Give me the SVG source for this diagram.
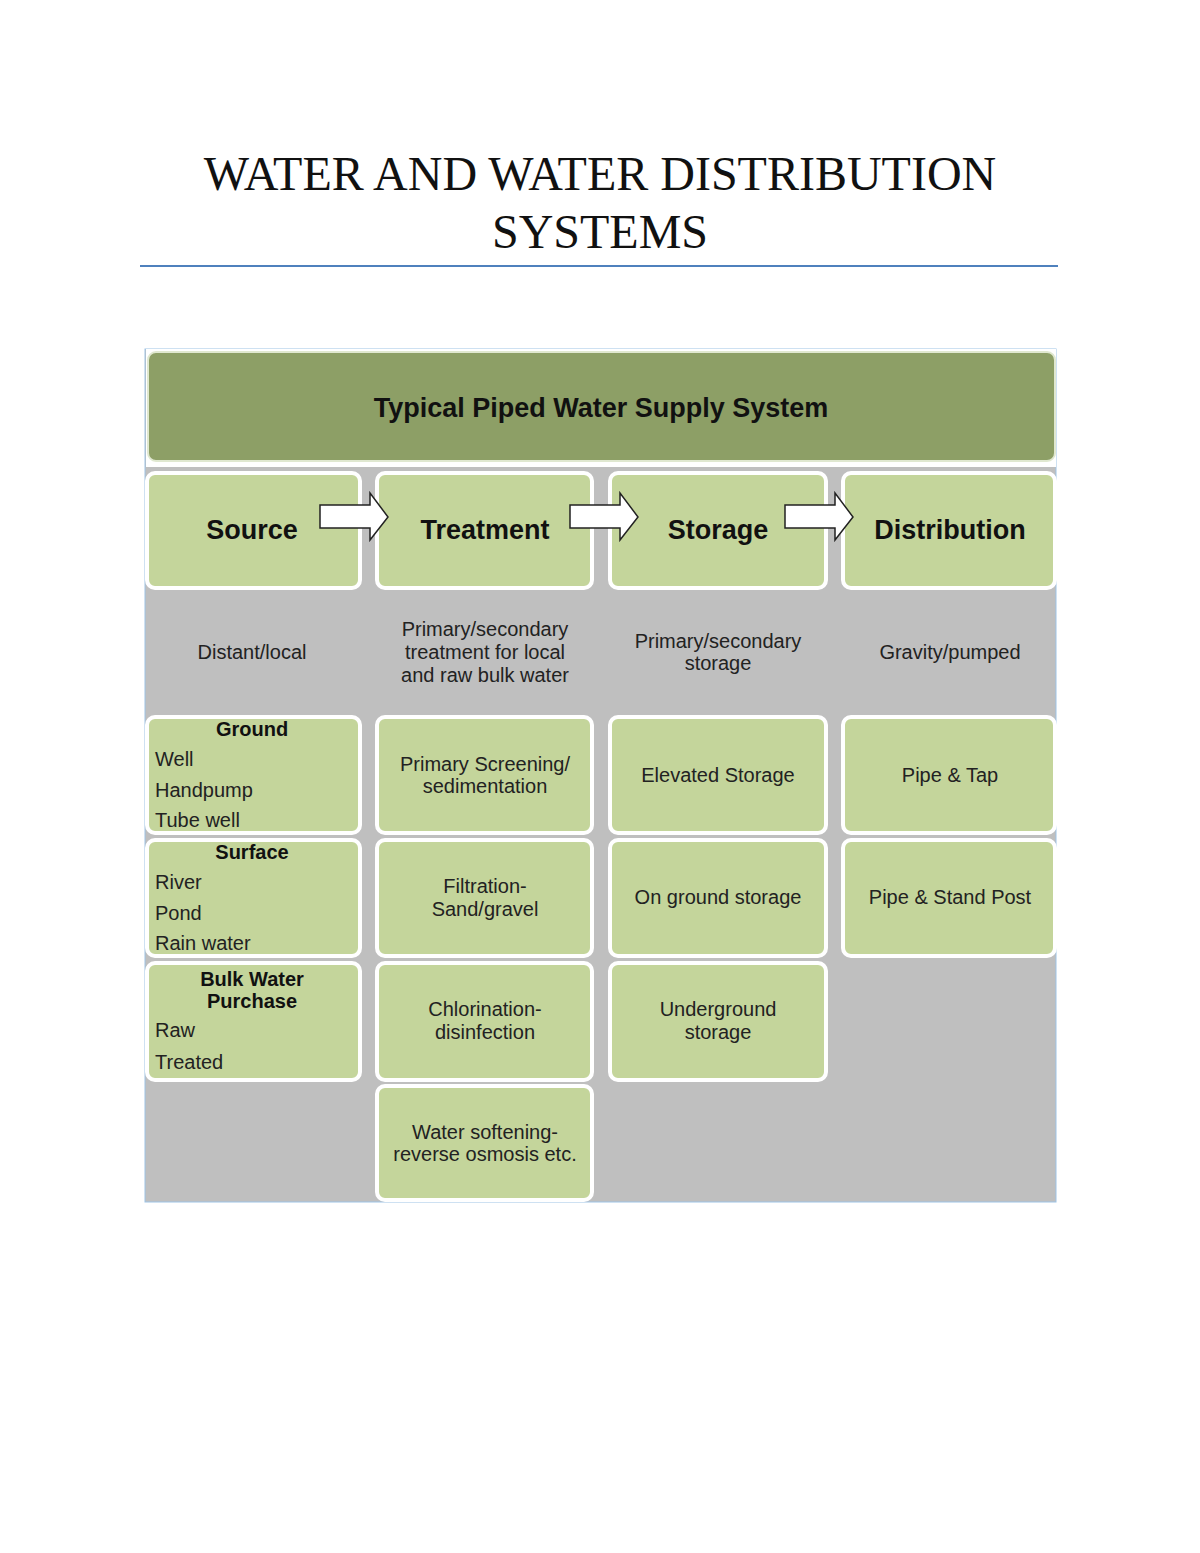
<svg xmlns="http://www.w3.org/2000/svg" width="1200" height="1553" viewBox="0 0 1200 1553">
<style>
.b{fill:#c4d59b;stroke:#fff;stroke-width:4}
.t{font-family:"Liberation Sans",Arial,sans-serif;font-size:20px;fill:#222}
.h{font-family:"Liberation Sans",Arial,sans-serif;font-size:27px;font-weight:bold;fill:#111}
.bb{font-family:"Liberation Sans",Arial,sans-serif;font-size:20px;font-weight:bold;fill:#111}
.m{text-anchor:middle}
.ar{fill:#fff;stroke:#222;stroke-width:1.5}
</style>
<rect width="1200" height="1553" fill="#fff"/>
<text x="600" y="190" class="m" font-family="Liberation Serif,serif" font-size="48" fill="#111">WATER AND WATER DISTRIBUTION</text>
<text x="600" y="248" class="m" font-family="Liberation Serif,serif" font-size="48" fill="#111">SYSTEMS</text>
<line x1="140" y1="266" x2="1058" y2="266" stroke="#4f81bd" stroke-width="2"/>
<rect x="145" y="349" width="911" height="853" fill="#bfbfbf" stroke="#9dc3e6" stroke-width="1"/>
<rect x="146" y="349" width="910" height="118" fill="#fff"/>
<g id="header"><rect x="148" y="352" width="907" height="109" rx="8" fill="#8d9f66" stroke="#e0e8d0" stroke-width="2"/>
<text x="601" y="417" class="h m" font-size="31">Typical Piped Water Supply System</text></g>
<g id="source"><rect class="b" x="147" y="473" width="213" height="115" rx="8"/><text x="252" y="539" class="h m">Source</text></g>
<g id="treatment"><rect class="b" x="377" y="473" width="215" height="115" rx="8"/><text x="485" y="539" class="h m">Treatment</text></g>
<g id="storage"><rect class="b" x="610" y="473" width="216" height="115" rx="8"/><text x="718" y="539" class="h m">Storage</text></g>
<g id="distribution"><rect class="b" x="843" y="473" width="212" height="115" rx="8"/><text x="950" y="539" class="h m">Distribution</text></g>
<g id="connectors">
<path class="ar" d="M320,505 H370 V493 L388,517 L370,540 V528 H320 Z"/>
<path class="ar" d="M570,505 H620 V493 L638,517 L620,540 V528 H570 Z"/>
<path class="ar" d="M785,505 H835 V493 L853,517 L835,540 V528 H785 Z"/>
</g>
<g id="desc">
<text x="252" y="659" class="t m">Distant/local</text>
<text x="485" y="636" class="t m">Primary/secondary</text>
<text x="485" y="659" class="t m">treatment for local</text>
<text x="485" y="682" class="t m">and raw bulk water</text>
<text x="718" y="648" class="t m">Primary/secondary</text>
<text x="718" y="670" class="t m">storage</text>
<text x="950" y="659" class="t m">Gravity/pumped</text>
</g>
<g id="ground"><rect class="b" x="147" y="717" width="213" height="116" rx="8"/>
<text x="252" y="736" class="bb m">Ground</text><text x="155" y="766" class="t">Well</text><text x="155" y="797" class="t">Handpump</text><text x="155" y="827" class="t">Tube well</text></g>
<g id="surface"><rect class="b" x="147" y="840" width="213" height="116" rx="8"/>
<text x="252" y="859" class="bb m">Surface</text><text x="155" y="889" class="t">River</text><text x="155" y="920" class="t">Pond</text><text x="155" y="950" class="t">Rain water</text></g>
<g id="bulk"><rect class="b" x="147" y="963" width="213" height="117" rx="8"/>
<text x="252" y="986" class="bb m">Bulk Water</text><text x="252" y="1008" class="bb m">Purchase</text><text x="155" y="1037" class="t">Raw</text><text x="155" y="1069" class="t">Treated</text></g>
<g id="t1"><rect class="b" x="377" y="717" width="215" height="116" rx="8"/><text x="485" y="771" class="t m">Primary Screening/</text><text x="485" y="793" class="t m">sedimentation</text></g>
<g id="t2"><rect class="b" x="377" y="840" width="215" height="116" rx="8"/><text x="485" y="893" class="t m">Filtration-</text><text x="485" y="916" class="t m">Sand/gravel</text></g>
<g id="t3"><rect class="b" x="377" y="963" width="215" height="117" rx="8"/><text x="485" y="1016" class="t m">Chlorination-</text><text x="485" y="1039" class="t m">disinfection</text></g>
<g id="t4"><rect class="b" x="377" y="1086" width="215" height="114" rx="8"/><text x="485" y="1139" class="t m">Water softening-</text><text x="485" y="1161" class="t m">reverse osmosis etc.</text></g>
<g id="s1"><rect class="b" x="610" y="717" width="216" height="116" rx="8"/><text x="718" y="782" class="t m">Elevated Storage</text></g>
<g id="s2"><rect class="b" x="610" y="840" width="216" height="116" rx="8"/><text x="718" y="904" class="t m">On ground storage</text></g>
<g id="s3"><rect class="b" x="610" y="963" width="216" height="117" rx="8"/><text x="718" y="1016" class="t m">Underground</text><text x="718" y="1039" class="t m">storage</text></g>
<g id="d1"><rect class="b" x="843" y="717" width="212" height="116" rx="8"/><text x="950" y="782" class="t m">Pipe &amp; Tap</text></g>
<g id="d2"><rect class="b" x="843" y="840" width="212" height="116" rx="8"/><text x="950" y="904" class="t m">Pipe &amp; Stand Post</text></g>
</svg>
